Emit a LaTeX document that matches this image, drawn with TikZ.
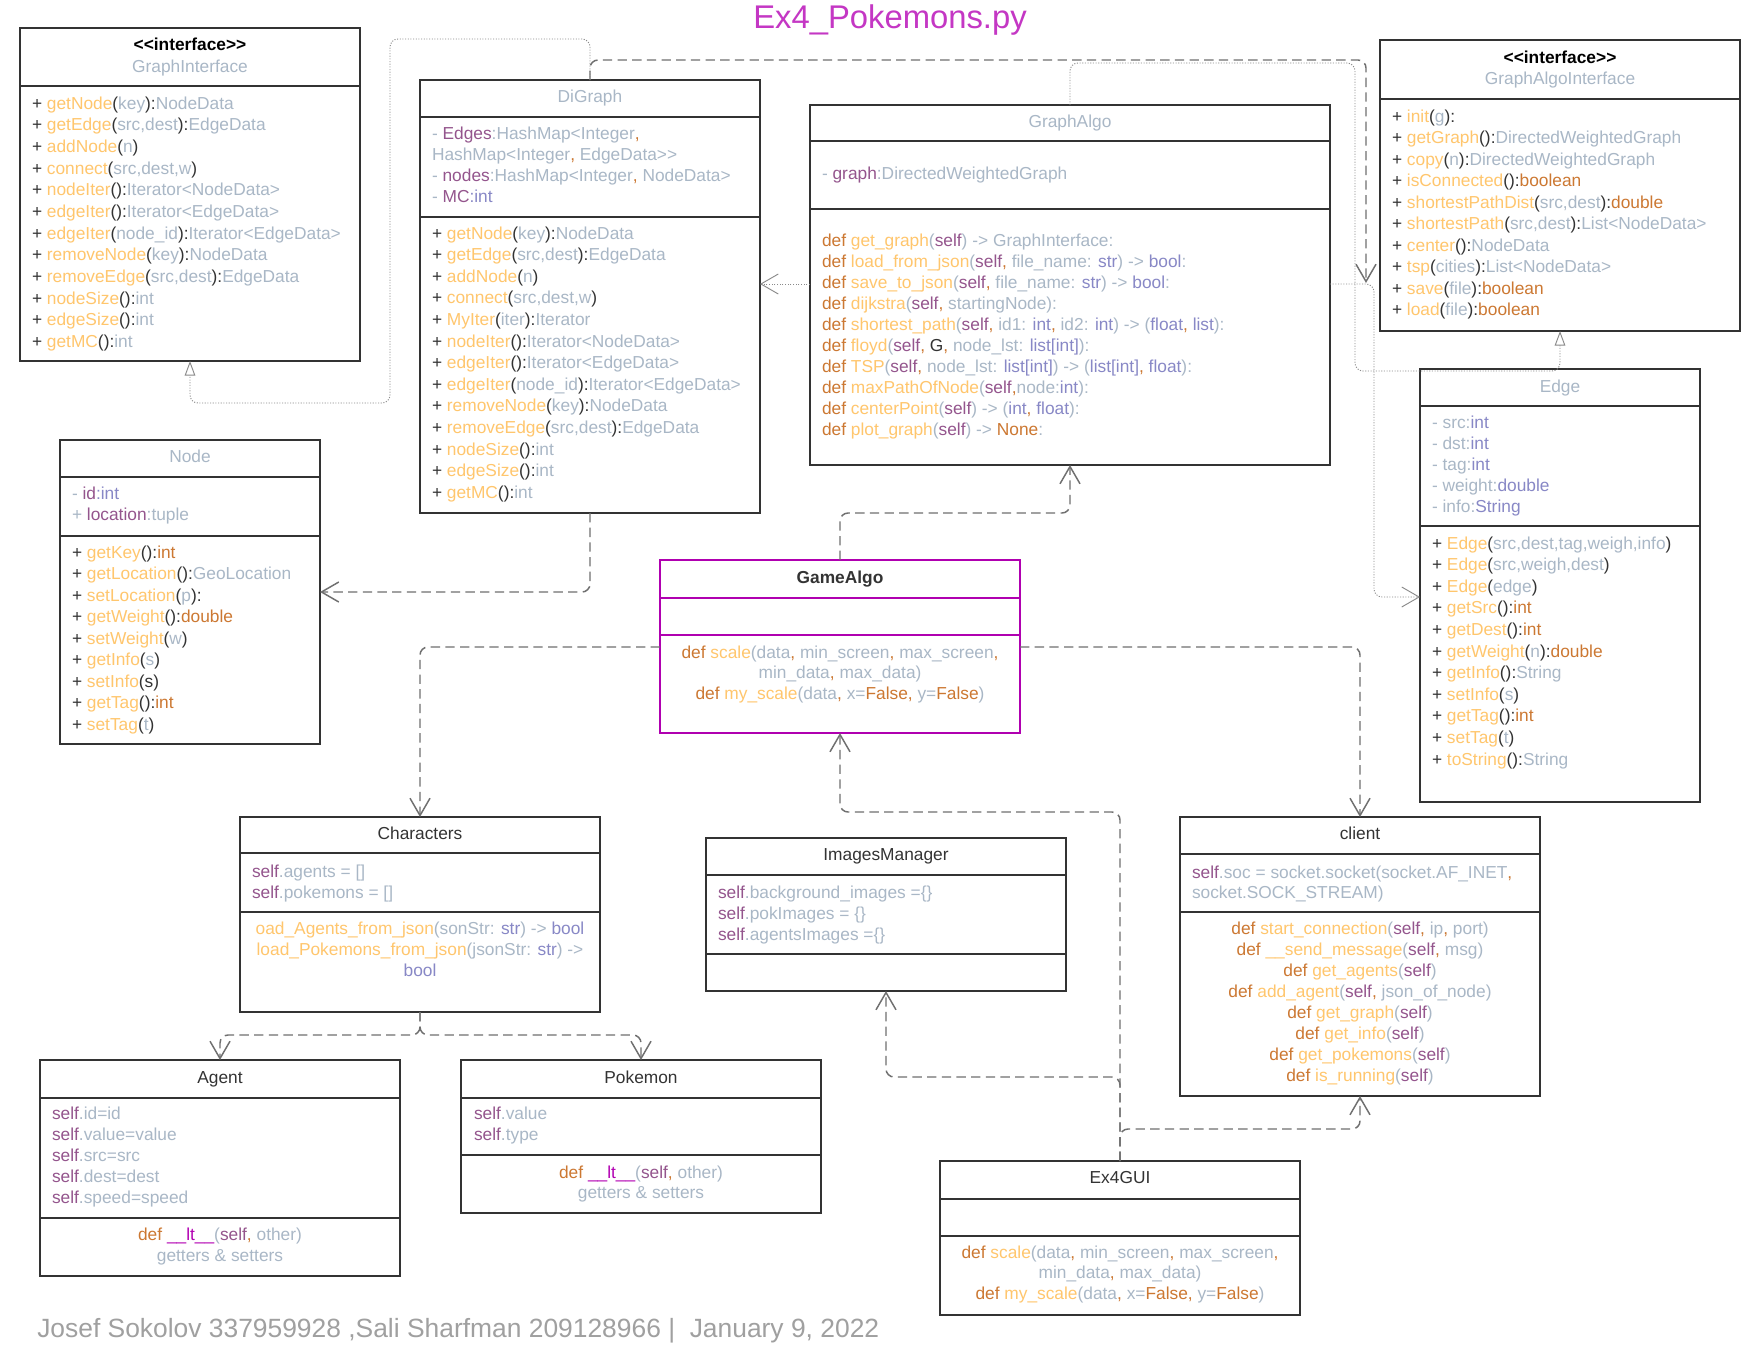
\documentclass[tikz,border=0pt]{standalone}
\usepackage{fontspec}
\newfontfamily\lsans{Liberation Sans}
\usetikzlibrary{arrows.meta}
\definecolor{cdef}{HTML}{CC7832}
\definecolor{cfun}{HTML}{FFC66D}
\definecolor{cself}{HTML}{94558D}
\definecolor{cpar}{HTML}{A9B7C6}
\definecolor{cbuilt}{HTML}{8888C6}
\definecolor{cdark}{HTML}{333333}
\definecolor{cdunder}{HTML}{B200B2}
\definecolor{cmag}{HTML}{B000B0}
\definecolor{ctitle}{HTML}{C437C4}
\definecolor{cfoot}{HTML}{A0A0A0}
\definecolor{cdash}{HTML}{707070}
\definecolor{cdot}{HTML}{8A8A8A}
\newcommand\kD[1]{\textcolor{cdef}{#1}}
\newcommand\fN[1]{\textcolor{cfun}{#1}}
\newcommand\sF[1]{\textcolor{cself}{#1}}
\newcommand\pR[1]{\textcolor{cpar}{#1}}
\newcommand\bT[1]{\textcolor{cbuilt}{#1}}
\newcommand\dU[1]{\textcolor{cdunder}{#1}}
% name, x, first baseline y, anchor, step, list of lines
\newcommand\txtlines[6]{%
  \foreach \tl [count=\ti from 0] in {#6}{%
    \node[txt, anchor=#4, name=#1-\ti] at ({#2},{#3+\ti*#5}) {\tl};}}
% name, x1, y1, x2, y2, style
\newcommand\umlbox[6]{%
  \node[#6, minimum width={(#4-#2)*0.75pt}, minimum height={(#5-#3)*0.75pt}] (#1) at ({(#2+#4)/2},{(#3+#5)/2}) {};}
\tikzset{
  txt/.style={inner sep=0pt, outer sep=0pt, font=\lsans\fontsize{13}{16}\selectfont, text=cdark},
  boxst/.style={draw=cdark, line width=1.5pt, rectangle, inner sep=0pt, outer sep=0pt, fill=white},
  magbox/.style={boxst, draw=cmag},
  divline/.style={draw=cdark, line width=1.5pt},
  magdiv/.style={draw=cmag, line width=1.5pt},
  dashln/.style={draw=cdash, line width=1.1pt, dash pattern=on 7pt off 4pt, rounded corners=6pt},
  dotln/.style={draw=cdot, line width=0.7pt, dash pattern=on 0.8pt off 1.2pt, rounded corners=6pt},
  openv/.style={-{Straight Barb[length=13pt,width=15pt]}},
  realiz/.style={-{Triangle[open,length=11pt,width=8pt]}}
}
\begin{document}
\begin{tikzpicture}[x=0.75pt,y=-0.75pt]
\useasboundingbox (0,0) rectangle (1760,1360);
\fill[white] (0,0) rectangle (1760,1360);

% ---------- title ----------
\node[inner sep=0pt, font=\lsans\fontsize{24.6}{30}\selectfont, text=ctitle, anchor=base] (title) at (890,28) {Ex4\_Pokemons.py};

% ---------- boxes ----------
\umlbox{GI}{20}{28}{360}{361}{boxst}
\umlbox{DG}{420}{80}{760}{513}{boxst}
\umlbox{GA}{810}{105}{1330}{465}{boxst}
\umlbox{GAI}{1380}{40}{1740}{331}{boxst}
\umlbox{ED}{1420}{369}{1700}{802}{boxst}
\umlbox{ND}{60}{440}{320}{744}{boxst}
\umlbox{GM}{660}{560}{1020}{733}{magbox}
\umlbox{CH}{240}{817}{600}{1012}{boxst}
\umlbox{IM}{706}{838}{1066}{991}{boxst}
\umlbox{CL}{1180}{817}{1540}{1096}{boxst}
\umlbox{AG}{40}{1060}{400}{1276}{boxst}
\umlbox{PK}{461}{1060}{821}{1213}{boxst}
\umlbox{EG}{940}{1161}{1300}{1315}{boxst}

% ---------- dividers ----------
\draw[divline] (GI.west |- 0,86) -- (GI.east |- 0,86);
\draw[divline] (DG.west |- 0,117) -- (DG.east |- 0,117);
\draw[divline] (DG.west |- 0,217) -- (DG.east |- 0,217);
\draw[divline] (GA.west |- 0,141) -- (GA.east |- 0,141);
\draw[divline] (GA.west |- 0,209) -- (GA.east |- 0,209);
\draw[divline] (GAI.west |- 0,99) -- (GAI.east |- 0,99);
\draw[divline] (ED.west |- 0,406) -- (ED.east |- 0,406);
\draw[divline] (ED.west |- 0,526) -- (ED.east |- 0,526);
\draw[divline] (ND.west |- 0,477) -- (ND.east |- 0,477);
\draw[divline] (ND.west |- 0,536) -- (ND.east |- 0,536);
\draw[magdiv] (GM.west |- 0,598) -- (GM.east |- 0,598);
\draw[magdiv] (GM.west |- 0,635) -- (GM.east |- 0,635);
\draw[divline] (CH.west |- 0,853) -- (CH.east |- 0,853);
\draw[divline] (CH.west |- 0,912) -- (CH.east |- 0,912);
\draw[divline] (IM.west |- 0,875) -- (IM.east |- 0,875);
\draw[divline] (IM.west |- 0,954) -- (IM.east |- 0,954);
\draw[divline] (CL.west |- 0,854) -- (CL.east |- 0,854);
\draw[divline] (CL.west |- 0,912) -- (CL.east |- 0,912);
\draw[divline] (AG.west |- 0,1098) -- (AG.east |- 0,1098);
\draw[divline] (AG.west |- 0,1218) -- (AG.east |- 0,1218);
\draw[divline] (PK.west |- 0,1098) -- (PK.east |- 0,1098);
\draw[divline] (PK.west |- 0,1155) -- (PK.east |- 0,1155);
\draw[divline] (EG.west |- 0,1199) -- (EG.east |- 0,1199);
\draw[divline] (EG.west |- 0,1236) -- (EG.east |- 0,1236);

% ---------- GraphInterface ----------
\node[txt, anchor=base, font=\lsans\bfseries\fontsize{13}{16}\selectfont, text=black] (GI-st) at (190,50) {<<interface>>};
\node[txt, anchor=base, text=cpar] (GI-nm) at (190,72) {GraphInterface};
\txtlines{GIm}{32}{109}{base west}{21.67}{
{+ \fN{getNode}(\pR{key}):\pR{NodeData}},
{+ \fN{getEdge}(\pR{src,dest}):\pR{EdgeData}},
{+ \fN{addNode}(\pR{n})},
{+ \fN{connect}(\pR{src,dest,w})},
{+ \fN{nodeIter}():\pR{Iterator<NodeData>}},
{+ \fN{edgeIter}():\pR{Iterator<EdgeData>}},
{+ \fN{edgeIter}(\pR{node\_id}):\pR{Iterator<EdgeData>}},
{+ \fN{removeNode}(\pR{key}):\pR{NodeData}},
{+ \fN{removeEdge}(\pR{src,dest}):\pR{EdgeData}},
{+ \fN{nodeSize}():\pR{int}},
{+ \fN{edgeSize}():\pR{int}},
{+ \fN{getMC}():\pR{int}}}

% ---------- DiGraph ----------
\node[txt, anchor=base, text=cpar] (DG-nm) at (590,102) {DiGraph};
\txtlines{DGa}{432}{139}{base west}{21}{
{\pR{- }\sF{Edges}\pR{:HashMap<Integer}\kD{,}},
{\pR{HashMap<Integer}\kD{,} \pR{EdgeData>>}},
{\pR{- }\sF{nodes}\pR{:HashMap<Integer}\kD{,} \pR{NodeData>}},
{\pR{- }\sF{MC}\bT{:int}}}
\txtlines{DGm}{432}{239}{base west}{21.6}{
{+ \fN{getNode}(\pR{key}):\pR{NodeData}},
{+ \fN{getEdge}(\pR{src,dest}):\pR{EdgeData}},
{+ \fN{addNode}(\pR{n})},
{+ \fN{connect}(\pR{src,dest,w})},
{+ \fN{MyIter}(\pR{iter}):\pR{Iterator}},
{+ \fN{nodeIter}():\pR{Iterator<NodeData>}},
{+ \fN{edgeIter}():\pR{Iterator<EdgeData>}},
{+ \fN{edgeIter}(\pR{node\_id}):\pR{Iterator<EdgeData>}},
{+ \fN{removeNode}(\pR{key}):\pR{NodeData}},
{+ \fN{removeEdge}(\pR{src,dest}):\pR{EdgeData}},
{+ \fN{nodeSize}():\pR{int}},
{+ \fN{edgeSize}():\pR{int}},
{+ \fN{getMC}():\pR{int}}}

% ---------- GraphAlgo ----------
\node[txt, anchor=base, text=cpar] (GA-nm) at (1070,127) {GraphAlgo};
\node[txt, anchor=base west] (GA-at) at (822,179) {\pR{- }\sF{graph}\pR{:DirectedWeightedGraph}};
\txtlines{GAm}{822}{246}{base west}{21}{
{\kD{def} \fN{get\_graph}\pR{(}\sF{self}\pR{) -> GraphInterface:}},
{\kD{def} \fN{load\_from\_json}\pR{(}\sF{self}\kD{,} \pR{file\_name:} \bT{str}\pR{) ->} \bT{bool}\pR{:}},
{\kD{def} \fN{save\_to\_json}\pR{(}\sF{self}\kD{,} \pR{file\_name:} \bT{str}\pR{) ->} \bT{bool}\pR{:}},
{\kD{def} \fN{dijkstra}\pR{(}\sF{self}\kD{,} \pR{startingNode):}},
{\kD{def} \fN{shortest\_path}\pR{(}\sF{self}\kD{,} \pR{id1:} \bT{int}\kD{,} \pR{id2:} \bT{int}\pR{) -> (}\bT{float}\kD{,} \bT{list}\pR{):}},
{\kD{def} \fN{floyd}\pR{(}\sF{self}\kD{,} G\kD{,} \pR{node\_lst:} \bT{list[int]}\pR{):}},
{\kD{def} \fN{TSP}\pR{(}\sF{self}\kD{,} \pR{node\_lst:} \bT{list[int]}\pR{) -> (}\bT{list[int]}\kD{,} \bT{float}\pR{):}},
{\kD{def} \fN{maxPathOfNode}\pR{(}\sF{self}\kD{,}\pR{node:}\bT{int}\pR{):}},
{\kD{def} \fN{centerPoint}\pR{(}\sF{self}\pR{) -> (}\bT{int}\kD{,} \bT{float}\pR{):}},
{\kD{def} \fN{plot\_graph}\pR{(}\sF{self}\pR{) ->} \kD{None}\pR{:}}}

% ---------- GraphAlgoInterface ----------
\node[txt, anchor=base, font=\lsans\bfseries\fontsize{13}{16}\selectfont, text=black] (GAI-st) at (1560,63) {<<interface>>};
\node[txt, anchor=base, text=cpar] (GAI-nm) at (1560,84) {GraphAlgoInterface};
\txtlines{GAIm}{1392}{122}{base west}{21.5}{
{+ \fN{init}(\pR{g}):},
{+ \fN{getGraph}():\pR{DirectedWeightedGraph}},
{+ \fN{copy}(\pR{n}):\pR{DirectedWeightedGraph}},
{+ \fN{isConnected}():\kD{boolean}},
{+ \fN{shortestPathDist}(\pR{src,dest}):\kD{double}},
{+ \fN{shortestPath}(\pR{src,dest}):\pR{List<NodeData>}},
{+ \fN{center}():\pR{NodeData}},
{+ \fN{tsp}(\pR{cities}):\pR{List<NodeData>}},
{+ \fN{save}(\pR{file}):\kD{boolean}},
{+ \fN{load}(\pR{file}):\kD{boolean}}}

% ---------- Edge ----------
\node[txt, anchor=base, text=cpar] (ED-nm) at (1560,392) {Edge};
\txtlines{EDa}{1432}{428}{base west}{21}{
{\pR{- src:}\bT{int}},
{\pR{- dst:}\bT{int}},
{\pR{- tag:}\bT{int}},
{\pR{- weight:}\bT{double}},
{\pR{- info:}\bT{String}}}
\txtlines{EDm}{1432}{549}{base west}{21.6}{
{+ \fN{Edge}(\pR{src,dest,tag,weigh,info})},
{+ \fN{Edge}(\pR{src,weigh,dest})},
{+ \fN{Edge}(\pR{edge})},
{+ \fN{getSrc}():\kD{int}},
{+ \fN{getDest}():\kD{int}},
{+ \fN{getWeight}(\pR{n}):\kD{double}},
{+ \fN{getInfo}():\pR{String}},
{+ \fN{setInfo}(\pR{s})},
{+ \fN{getTag}():\kD{int}},
{+ \fN{setTag}(\pR{t})},
{+ \fN{toString}():\pR{String}}}

% ---------- Node ----------
\node[txt, anchor=base, text=cpar] (ND-nm) at (190,462) {Node};
\txtlines{NDa}{72}{499}{base west}{21}{
{\pR{- }\sF{id}\bT{:int}},
{\pR{+ }\sF{location}\pR{:tuple}}}
\txtlines{NDm}{72}{558}{base west}{21.5}{
{+ \fN{getKey}():\kD{int}},
{+ \fN{getLocation}():\pR{GeoLocation}},
{+ \fN{setLocation}(\pR{p}):},
{+ \fN{getWeight}():\kD{double}},
{+ \fN{setWeight}(\pR{w})},
{+ \fN{getInfo}(\pR{s})},
{+ \fN{setInfo}(s)},
{+ \fN{getTag}():\kD{int}},
{+ \fN{setTag}(\pR{t})}}

% ---------- GameAlgo ----------
\node[txt, anchor=base, font=\lsans\bfseries\fontsize{13}{16}\selectfont] (GM-nm) at (840,583) {GameAlgo};
\txtlines{GMm}{840}{658}{base}{20.5}{
{\kD{def} \fN{scale}\pR{(data}\kD{,} \pR{min\_screen}\kD{,} \pR{max\_screen}\kD{,}},
{\pR{min\_data}\kD{,} \pR{max\_data)}},
{\kD{def} \fN{my\_scale}\pR{(data}\kD{,} \pR{x=}\kD{False}\kD{,} \pR{y=}\kD{False}\pR{)}}}

% ---------- Characters ----------
\node[txt, anchor=base] (CH-nm) at (420,839) {Characters};
\txtlines{CHa}{252}{877}{base west}{21}{
{\sF{self}\pR{.agents = []}},
{\sF{self}\pR{.pokemons = []}}}
\txtlines{CHm}{420}{934}{base}{21}{
{\fN{oad\_Agents\_from\_json}\pR{(sonStr:} \bT{str}\pR{) ->} \bT{bool}},
{\fN{load\_Pokemons\_from\_json}\pR{(jsonStr:} \bT{str}\pR{) ->}},
{\bT{bool}}}

% ---------- ImagesManager ----------
\node[txt, anchor=base] (IM-nm) at (886,860) {ImagesManager};
\txtlines{IMa}{718}{898}{base west}{21}{
{\sF{self}\pR{.background\_images =\{\}}},
{\sF{self}\pR{.pokImages = \{\}}},
{\sF{self}\pR{.agentsImages =\{\}}}}

% ---------- client ----------
\node[txt, anchor=base] (CL-nm) at (1360,839) {client};
\txtlines{CLa}{1192}{878}{base west}{20.5}{
{\sF{self}\pR{.soc = socket.socket(socket.AF\_INET}\kD{,}},
{\pR{socket.SOCK\_STREAM)}}}
\txtlines{CLm}{1360}{934}{base}{21.1}{
{\kD{def} \fN{start\_connection}\pR{(}\sF{self}\kD{,} \pR{ip}\kD{,} \pR{port)}},
{\kD{def} \fN{\_\_send\_message}\pR{(}\sF{self}\kD{,} \pR{msg)}},
{\kD{def} \fN{get\_agents}\pR{(}\sF{self}\pR{)}},
{\kD{def} \fN{add\_agent}\pR{(}\sF{self}\kD{,} \pR{json\_of\_node)}},
{\kD{def} \fN{get\_graph}\pR{(}\sF{self}\pR{)}},
{\kD{def} \fN{get\_info}\pR{(}\sF{self}\pR{)}},
{\kD{def} \fN{get\_pokemons}\pR{(}\sF{self}\pR{)}},
{\kD{def} \fN{is\_running}\pR{(}\sF{self}\pR{)}}}

% ---------- Agent ----------
\node[txt, anchor=base] (AG-nm) at (220,1083) {Agent};
\txtlines{AGa}{52}{1119}{base west}{21}{
{\sF{self}\pR{.id=id}},
{\sF{self}\pR{.value=value}},
{\sF{self}\pR{.src=src}},
{\sF{self}\pR{.dest=dest}},
{\sF{self}\pR{.speed=speed}}}
\txtlines{AGm}{220}{1240}{base}{21.5}{
{\kD{def} \dU{\_\_lt\_\_}\pR{(}\sF{self}\kD{,} \pR{other)}},
{\pR{getters \& setters}}}

% ---------- Pokemon ----------
\node[txt, anchor=base] (PK-nm) at (641,1083) {Pokemon};
\txtlines{PKa}{474}{1119}{base west}{21}{
{\sF{self}\pR{.value}},
{\sF{self}\pR{.type}}}
\txtlines{PKm}{641}{1178}{base}{20.5}{
{\kD{def} \dU{\_\_lt\_\_}\pR{(}\sF{self}\kD{,} \pR{other)}},
{\pR{getters \& setters}}}

% ---------- Ex4GUI ----------
\node[txt, anchor=base] (EG-nm) at (1120,1183) {Ex4GUI};
\txtlines{EGm}{1120}{1258}{base}{20.5}{
{\kD{def} \fN{scale}\pR{(data}\kD{,} \pR{min\_screen}\kD{,} \pR{max\_screen}\kD{,}},
{\pR{min\_data}\kD{,} \pR{max\_data)}},
{\kD{def} \fN{my\_scale}\pR{(data}\kD{,} \pR{x=}\kD{False}\kD{,} \pR{y=}\kD{False}\pR{)}}}

% ---------- connectors ----------
\coordinate (dgTip) at (1366,283);
\draw[dotln, realiz] (DG.north) -- (590,39) -- (390,39) -- (390,403) -- (190,403) -- (GI.south);
\draw[dashln, openv] (DG.north) -- (590,60) -- (1366,60) -- (dgTip);
\draw[dotln, openv] (GA.west |- 0,284) -- (DG.east |- 0,284);
\draw[dashln, openv] (DG.south) -- (590,592) -- (ND.east |- 0,592);
\draw[dotln, realiz] (GA.north) -- (1070,63) -- (1355,63) -- (1355,371) -- (1560,371) -- (GAI.south);
\draw[dotln, openv] (GA.east |- 0,284) -- (1374,284) -- (1374,597) -- (ED.west |- 0,597);
\draw[dashln, openv] (GM.north) -- (840,513) -- (1070,513) -- (GA.south);
\draw[dashln, openv] (GM.west |- 0,647) -- (420,647) -- (CH.north);
\draw[dashln, openv] (GM.east |- 0,647) -- (1360,647) -- (CL.north);
\draw[dashln, openv] (CH.south) -- (420,1035) -- (220,1035) -- (AG.north);
\draw[dashln, openv] (CH.south) -- (420,1035) -- (641,1035) -- (PK.north);
\draw[dashln, openv] (EG.north) -- (1120,812) -- (840,812) -- (GM.south);
\draw[dashln, openv] (EG.north) -- (1120,1077) -- (886,1077) -- (IM.south);
\draw[dashln, openv] (EG.north) -- (1120,1129) -- (1360,1129) -- (CL.south);

% ---------- footer ----------
\node[inner sep=0pt, font=\lsans\fontsize{19.8}{24}\selectfont, text=cfoot, anchor=base west] (footer) at (37,1337) {Josef Sokolov 337959928 ,Sali Sharfman 209128966 |~ January 9, 2022};
\end{tikzpicture}
\end{document}
